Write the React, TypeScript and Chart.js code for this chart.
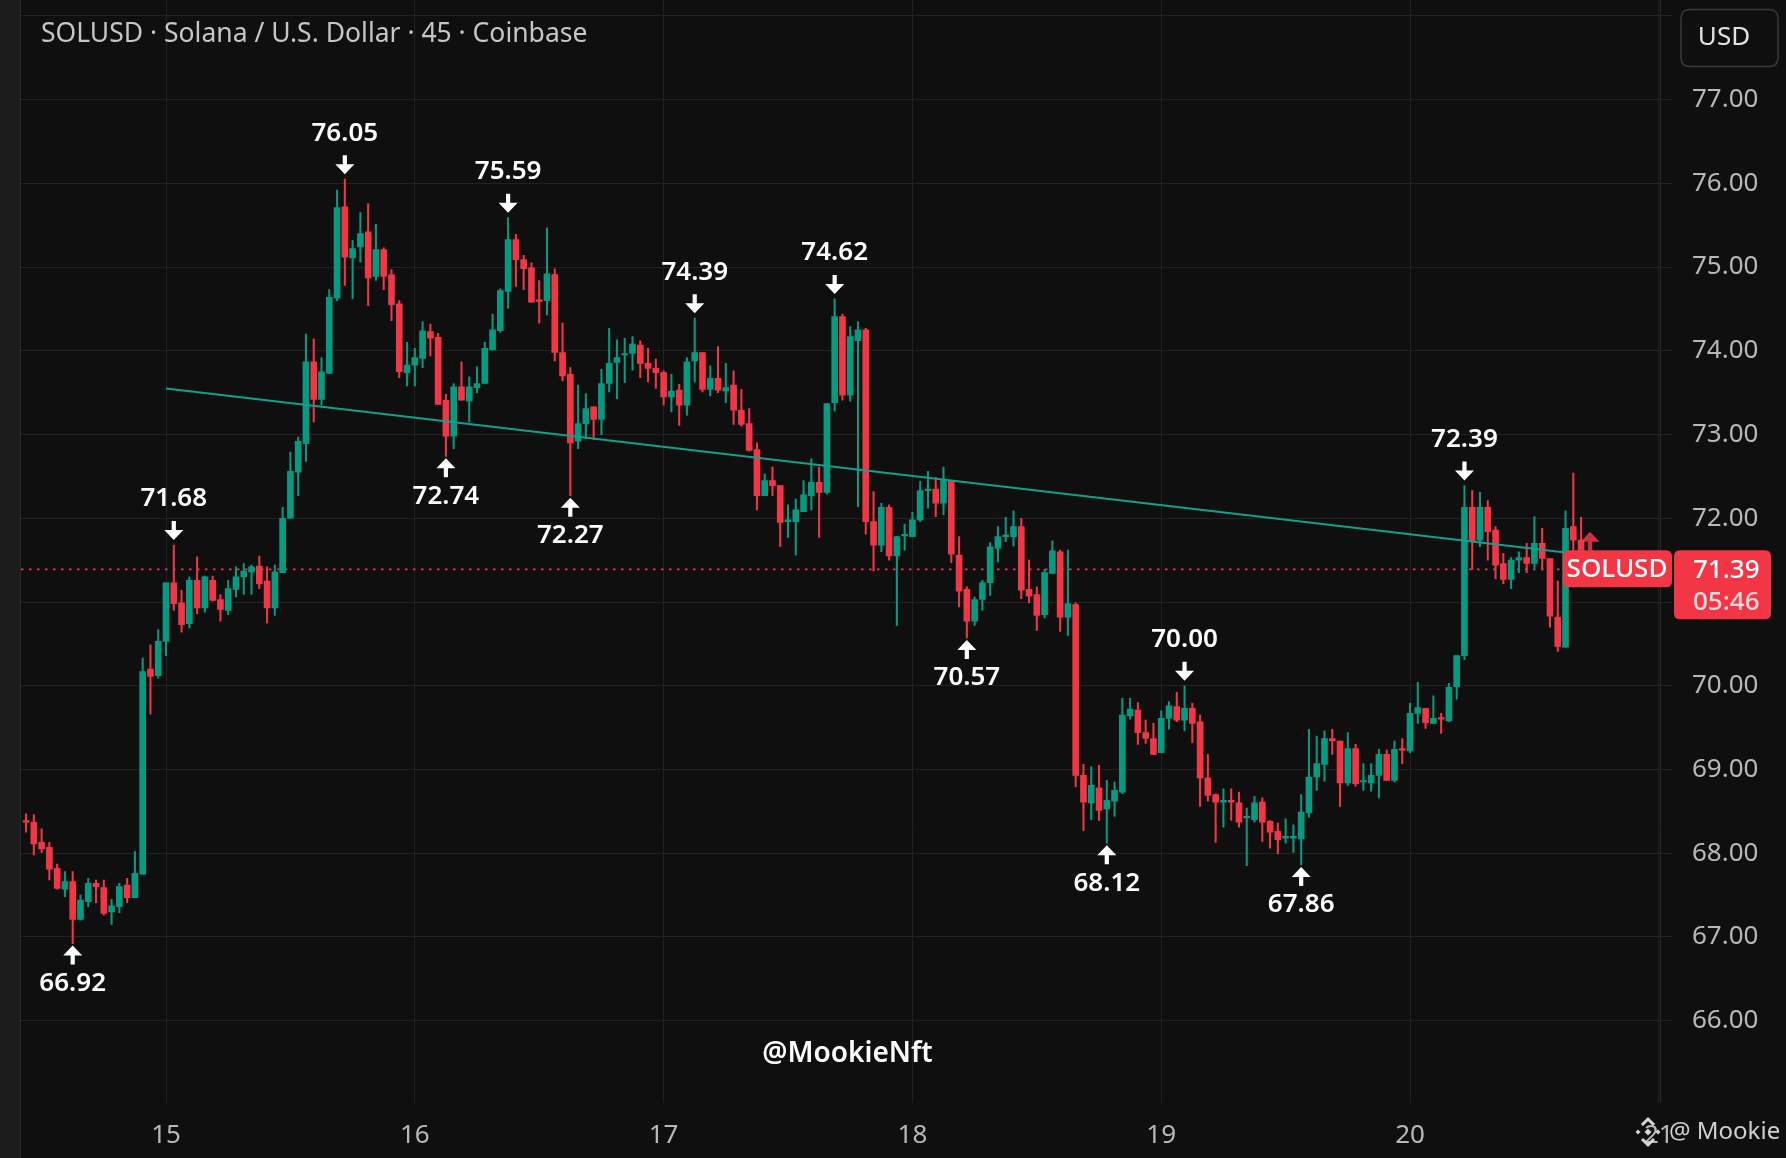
import React, { useEffect, useRef } from 'react';
import { Chart, registerables } from 'chart.js';

Chart.register(...registerables);

// ---- data ----
const title = 'SOLUSD · Solana / U.S. Dollar · 45 · Coinbase';
const symbol = 'SOLUSD';
const countdown = '05:46';
const currency = 'USD';
const watermark = '@MookieNft';
const cornerMark = '@ Mookie';

// candle index of first bar (45-minute bars, 32 per day, index 0 = start of day 15)
const firstIndex = -18;

const opens = [
  68.39, 68.37, 68.13, 68.07, 67.82, 67.57, 67.66, 67.21, 67.42, 67.64,
  67.59, 67.30, 67.36, 67.62, 67.47, 67.75, 70.20, 70.12, 70.53, 71.23,
  70.99, 70.74, 71.26, 70.93, 71.26, 71.03, 70.90, 71.15, 71.30, 71.36,
  71.43, 71.25, 70.93, 71.35, 72.00, 72.55, 72.89, 73.87, 73.42, 73.73,
  74.63, 75.72, 75.11, 75.24, 75.42, 74.89, 75.21, 74.91, 74.56, 73.74,
  73.83, 73.91, 74.23, 74.16, 73.41, 72.98, 73.57, 73.40, 73.56, 73.61,
  74.01, 74.24, 74.71, 75.33, 75.09, 74.99, 74.60, 74.60, 74.91, 73.98,
  73.72, 72.92, 73.13, 73.33, 73.18, 73.61, 73.86, 73.95, 73.97, 74.07,
  73.85, 73.79, 73.74, 73.45, 73.53, 73.35, 73.88, 73.98, 73.54, 73.67,
  73.52, 73.59, 73.29, 73.13, 72.82, 72.27, 72.45, 72.39, 71.96, 71.96,
  72.08, 72.27, 72.43, 72.31, 73.38, 74.41, 73.47, 74.12, 74.25, 71.96,
  71.68, 72.13, 71.55, 71.79, 71.78, 71.98, 72.33, 72.35, 72.18, 72.45,
  71.56, 71.15, 70.77, 71.03, 71.23, 71.64, 71.78, 71.78, 71.90, 71.15,
  71.09, 70.85, 71.34, 71.60, 70.82, 70.97, 68.93, 68.60, 68.78, 68.53,
  68.62, 68.73, 69.64, 69.71, 69.44, 69.37, 69.20, 69.61, 69.75, 69.59,
  69.73, 69.57, 68.90, 68.70, 68.61, 68.63, 68.60, 68.42, 68.40, 68.61,
  68.38, 68.26, 68.18, 68.18, 68.17, 68.48, 68.91, 69.06, 69.37, 69.34,
  68.84, 69.25, 68.85, 68.84, 68.93, 69.18, 68.87, 69.25, 69.22, 69.67,
  69.73, 69.55, 69.62, 69.58, 69.99, 70.36, 72.13, 71.74, 72.13, 71.86,
  71.46, 71.27, 71.50, 71.53, 71.46, 71.70, 71.52, 70.82, 70.46, 71.90,
  71.74,
];

const highs = [
  68.47, 68.46, 68.29, 68.13, 67.87, 67.78, 67.78, 67.50, 67.70, 67.68,
  67.68, 67.45, 67.64, 67.70, 68.02, 70.33, 70.49, 70.67, 71.23, 71.68,
  71.14, 71.30, 71.54, 71.31, 71.31, 71.09, 71.26, 71.42, 71.46, 71.44,
  71.55, 71.42, 71.44, 72.13, 72.79, 72.97, 74.20, 74.14, 73.92, 74.73,
  75.92, 76.05, 75.32, 75.65, 75.76, 75.51, 75.23, 74.97, 74.60, 74.10,
  74.03, 74.35, 74.32, 74.21, 73.48, 73.61, 73.87, 73.69, 73.81, 74.10,
  74.44, 74.74, 75.59, 75.39, 75.14, 75.05, 74.84, 75.47, 74.98, 74.33,
  73.80, 73.59, 73.49, 73.33, 73.78, 74.27, 74.13, 74.15, 74.17, 74.12,
  74.03, 73.90, 73.76, 73.72, 73.60, 73.92, 74.39, 73.98, 73.82, 74.05,
  73.85, 73.76, 73.54, 73.31, 72.90, 72.53, 72.61, 72.39, 72.16, 72.23,
  72.45, 72.71, 72.61, 73.37, 74.62, 74.44, 74.29, 74.35, 74.27, 72.32,
  72.18, 72.16, 71.78, 71.93, 72.07, 72.44, 72.56, 72.49, 72.61, 72.45,
  71.78, 71.18, 71.06, 71.26, 71.71, 71.90, 72.01, 72.09, 72.00, 71.50,
  71.18, 71.39, 71.73, 71.62, 71.62, 70.99, 69.06, 69.03, 69.05, 68.87,
  68.85, 69.85, 69.85, 69.80, 69.59, 69.55, 69.70, 69.81, 69.92, 70.00,
  69.79, 69.65, 69.18, 68.71, 68.77, 68.77, 68.73, 68.54, 68.68, 68.66,
  68.39, 68.36, 68.41, 68.34, 68.70, 69.48, 69.40, 69.46, 69.48, 69.34,
  69.44, 69.30, 69.07, 69.07, 69.24, 69.23, 69.34, 69.37, 69.79, 70.04,
  69.73, 69.88, 69.67, 70.03, 70.36, 72.39, 72.33, 72.31, 72.21, 71.90,
  71.58, 71.53, 71.60, 71.70, 72.02, 71.88, 71.52, 71.25, 72.09, 72.54,
  72.01,
];

const lows = [
  68.25, 67.98, 68.01, 67.68, 67.57, 67.48, 66.92, 67.20, 67.36, 67.41,
  67.26, 67.15, 67.29, 67.41, 67.47, 67.75, 69.66, 70.09, 70.36, 70.90,
  70.64, 70.69, 70.86, 70.88, 71.01, 70.77, 70.85, 71.06, 71.09, 71.09,
  71.16, 70.75, 70.84, 71.35, 72.00, 72.27, 72.68, 73.15, 73.35, 73.73,
  74.60, 74.78, 74.62, 75.06, 74.54, 74.84, 74.73, 74.36, 73.68, 73.58,
  73.58, 73.80, 73.94, 73.36, 72.74, 72.83, 73.41, 73.15, 73.50, 73.61,
  74.01, 74.22, 74.51, 74.77, 74.73, 74.58, 74.33, 74.43, 73.88, 73.64,
  72.27, 72.83, 72.96, 72.94, 73.00, 73.51, 73.43, 73.62, 73.77, 73.68,
  73.63, 73.55, 73.35, 73.27, 73.11, 73.23, 73.63, 73.51, 73.46, 73.50,
  73.38, 73.12, 73.10, 72.80, 72.10, 72.27, 72.27, 71.66, 71.77, 71.56,
  72.08, 72.10, 71.77, 72.29, 73.28, 73.41, 73.40, 72.14, 71.81, 71.37,
  71.60, 71.50, 70.72, 71.62, 71.78, 71.96, 72.12, 72.02, 72.04, 71.47,
  70.94, 70.57, 70.72, 70.90, 71.08, 71.48, 71.72, 71.67, 71.04, 70.99,
  70.66, 70.81, 71.34, 70.65, 70.60, 68.79, 68.27, 68.40, 68.39, 68.12,
  68.44, 68.71, 69.60, 69.30, 69.31, 69.18, 69.20, 69.48, 69.57, 69.46,
  69.32, 68.56, 68.62, 68.13, 68.31, 68.39, 68.31, 67.85, 68.37, 68.14,
  68.06, 67.99, 68.12, 68.01, 67.86, 68.43, 68.75, 68.86, 69.18, 68.56,
  68.81, 68.80, 68.75, 68.74, 68.66, 68.87, 68.85, 69.07, 69.20, 69.55,
  69.49, 69.55, 69.43, 69.57, 69.84, 70.31, 71.39, 71.66, 71.50, 71.28,
  71.22, 71.16, 71.35, 71.35, 71.40, 71.39, 70.70, 70.41, 70.46, 71.55,
  71.35,
];

const closes = [
  68.37, 68.11, 68.05, 67.81, 67.58, 67.66, 67.21, 67.44, 67.64, 67.60,
  67.28, 67.37, 67.60, 67.47, 67.76, 70.17, 70.11, 70.53, 71.23, 70.98,
  70.73, 71.26, 70.93, 71.30, 71.02, 70.91, 71.16, 71.30, 71.37, 71.42,
  71.22, 70.93, 71.36, 72.00, 72.56, 72.92, 73.87, 73.42, 73.75, 74.64,
  75.71, 75.12, 75.22, 75.40, 74.87, 75.21, 74.89, 74.55, 73.75, 73.83,
  73.92, 74.24, 74.15, 73.36, 72.98, 73.57, 73.41, 73.57, 73.61, 74.03,
  74.25, 74.72, 75.33, 75.09, 74.98, 74.58, 74.59, 74.92, 73.98, 73.70,
  72.90, 73.13, 73.31, 73.18, 73.61, 73.85, 73.92, 73.96, 74.08, 73.85,
  73.79, 73.74, 73.45, 73.52, 73.35, 73.87, 73.98, 73.54, 73.67, 73.53,
  73.56, 73.29, 73.12, 72.81, 72.27, 72.45, 72.39, 71.95, 71.98, 72.10,
  72.28, 72.43, 72.31, 73.37, 74.41, 73.47, 74.17, 74.25, 71.96, 71.68,
  72.13, 71.55, 71.78, 71.80, 71.98, 72.33, 72.34, 72.18, 72.45, 71.57,
  71.13, 70.77, 71.03, 71.23, 71.66, 71.78, 71.80, 71.90, 71.14, 71.07,
  70.84, 71.35, 71.61, 70.82, 70.98, 68.93, 68.61, 68.81, 68.51, 68.63,
  68.75, 69.65, 69.72, 69.44, 69.37, 69.18, 69.61, 69.76, 69.59, 69.73,
  69.55, 68.90, 68.69, 68.61, 68.63, 68.61, 68.37, 68.44, 68.60, 68.37,
  68.25, 68.16, 68.20, 68.20, 68.49, 68.91, 69.07, 69.37, 69.34, 68.84,
  69.25, 68.83, 68.86, 68.93, 69.18, 68.87, 69.24, 69.23, 69.67, 69.74,
  69.56, 69.61, 69.60, 69.98, 70.36, 72.13, 71.72, 72.13, 71.84, 71.44,
  71.27, 71.50, 71.53, 71.46, 71.70, 71.52, 70.83, 70.47, 71.88, 71.74,
  71.39,
];

const dayTicks = [0, 32, 64, 96, 128, 160, 192];
const dayLabels = ['15', '16', '17', '18', '19', '20', '21'];
const priceTicks = [66, 67, 68, 69, 70, 71, 72, 73, 74, 75, 76, 77, 78];
const priceLabelMax = 77; // the 78 gridline's label sits under the currency box

// swing annotations
const highIdx = [1, 23, 44, 68, 86, 131, 167];
const highVals = [71.68, 76.05, 75.59, 74.39, 74.62, 70.0, 72.39];
const lowIdx = [-12, 36, 52, 103, 121, 146];
const lowVals = [66.92, 72.74, 72.27, 70.57, 68.12, 67.86];
const pendingIdx = [183.15];
const pendingVals = [71.84];

// trend line
const trendIdx = [0, 180];
const trendVals = [73.55, 71.59];

const xMin = -18.65;
const xMax = 192.15;
const yMin = 65.02;
const yMax = 78.19;

const GREEN = '#089981';
const RED = '#f23645';
const TEAL = '#12a08b';
const BG = '#0f0f0f';
const GRID = '#222222';
const TICK = '#b8b8b8';
const FONT = "'Noto Sans', 'Open Sans', sans-serif";

function drawArrow(ctx: CanvasRenderingContext2D, x: number, tipY: number, dir: number) {
  // dir = 1 : pointing down (tip at bottom); dir = -1 : pointing up
  const headH = 10, headW = 19, shaftW = 4.2, len = 19;
  const s = dir;
  ctx.beginPath();
  ctx.moveTo(x, tipY);
  ctx.lineTo(x - headW / 2, tipY - s * headH);
  ctx.lineTo(x - shaftW / 2, tipY - s * headH);
  ctx.lineTo(x - shaftW / 2, tipY - s * len);
  ctx.lineTo(x + shaftW / 2, tipY - s * len);
  ctx.lineTo(x + shaftW / 2, tipY - s * headH);
  ctx.lineTo(x + headW / 2, tipY - s * headH);
  ctx.closePath();
  ctx.fill();
}

function rrect(ctx: CanvasRenderingContext2D, x: number, y: number, w: number, h: number, r: number) {
  ctx.beginPath();
  ctx.moveTo(x + r, y);
  ctx.lineTo(x + w - r, y);
  ctx.quadraticCurveTo(x + w, y, x + w, y + r);
  ctx.lineTo(x + w, y + h - r);
  ctx.quadraticCurveTo(x + w, y + h, x + w - r, y + h);
  ctx.lineTo(x + r, y + h);
  ctx.quadraticCurveTo(x, y + h, x, y + h - r);
  ctx.lineTo(x, y + r);
  ctx.quadraticCurveTo(x, y, x + r, y);
  ctx.closePath();
}

const overlayPlugin = {
  id: 'overlay',
  beforeDraw(chart: any) {
    const { ctx, width, height } = chart;
    ctx.save();
    ctx.fillStyle = BG;
    ctx.fillRect(0, 0, width, height);
    ctx.fillStyle = '#1c1c1c';
    ctx.fillRect(0, 0, 20, height);
    ctx.fillStyle = '#2a2a2a';
    ctx.fillRect(20, 0, 1, height);
    ctx.restore();
  },
  afterDatasetsDraw(chart: any) {
    const { ctx } = chart;
    const xs = chart.scales.x;
    const ys = chart.scales.y;
    ctx.save();
    ctx.fillStyle = '#ffffff';
    ctx.font = `600 26px ${FONT}`;
    ctx.textAlign = 'center';
    ctx.textBaseline = 'middle';
    highIdx.forEach((i, k) => {
      const x = xs.getPixelForValue(i);
      const y = ys.getPixelForValue(highVals[k]);
      drawArrow(ctx, x, y - 5, 1);
      ctx.fillText(highVals[k].toFixed(2), x, y - 46);
    });
    lowIdx.forEach((i, k) => {
      const x = xs.getPixelForValue(i);
      const y = ys.getPixelForValue(lowVals[k]);
      drawArrow(ctx, x, y + 2, -1);
      ctx.fillText(lowVals[k].toFixed(2), x, y + 40);
    });
    ctx.fillStyle = 'rgba(242,54,69,0.85)';
    pendingIdx.forEach((i, k) => {
      const x = xs.getPixelForValue(i);
      const y = ys.getPixelForValue(pendingVals[k]);
      drawArrow(ctx, x, y, -1);
    });
    ctx.restore();
  },
  afterDraw(chart: any) {
    const { ctx, chartArea } = chart;
    const ys = chart.scales.y;
    const R = chartArea.right;
    ctx.save();
    // header
    ctx.font = `26.5px ${FONT}`;
    ctx.fillStyle = '#c6c6c6';
    ctx.textAlign = 'left';
    ctx.textBaseline = 'middle';
    ctx.fillText(title, 41, 34);

    // currency box
    ctx.fillStyle = BG;
    rrect(ctx, R + 21, 9.5, 97, 57, 9);
    ctx.fill();
    ctx.strokeStyle = '#3a3a3a';
    ctx.lineWidth = 1.5;
    ctx.stroke();
    ctx.fillStyle = '#e2e2e2';
    ctx.font = `26px ${FONT}`;
    ctx.textAlign = 'center';
    ctx.fillText(currency, R + 64, 38);

    // last price labels
    const last = closes[closes.length - 1];
    const py = ys.getPixelForValue(last);
    ctx.fillStyle = RED;
    rrect(ctx, R - 97, py - 19, 109, 37, 6);
    ctx.fill();
    rrect(ctx, R + 14, py - 19, 97, 69, 6);
    ctx.fill();
    ctx.fillStyle = '#ffffff';
    ctx.font = `500 26px ${FONT}`;
    ctx.textAlign = 'center';
    ctx.fillText(symbol, R - 43, py);
    ctx.textAlign = 'left';
    ctx.fillText(last.toFixed(2), R + 33, py + 1);
    ctx.fillStyle = 'rgba(255,255,255,0.82)';
    ctx.fillText(countdown, R + 33, py + 33);

    // watermark
    ctx.fillStyle = '#ffffff';
    ctx.font = `600 28px ${FONT}`;
    ctx.textAlign = 'center';
    ctx.fillText(watermark, (chartArea.left + R) / 2 + 7, 1054);

    // corner mark with small diamond logo
    const cx = 1648, cy = 1132;
    ctx.fillStyle = '#d6d6d6';
    const d = (x: number, y: number, r: number) => {
      ctx.beginPath();
      ctx.moveTo(x, y - r);
      ctx.lineTo(x + r, y);
      ctx.lineTo(x, y + r);
      ctx.lineTo(x - r, y);
      ctx.closePath();
      ctx.fill();
    };
    d(cx, cy, 3.5);
    d(cx - 10, cy, 2.5);
    d(cx + 10, cy, 2.5);
    ctx.strokeStyle = '#d6d6d6';
    ctx.lineWidth = 3;
    ctx.beginPath();
    ctx.moveTo(cx - 6, cy - 7);
    ctx.lineTo(cx, cy - 13);
    ctx.lineTo(cx + 6, cy - 7);
    ctx.moveTo(cx - 6, cy + 7);
    ctx.lineTo(cx, cy + 13);
    ctx.lineTo(cx + 6, cy + 7);
    ctx.stroke();
    ctx.font = `24px ${FONT}`;
    ctx.textAlign = 'left';
    ctx.fillStyle = '#d0d0d0';
    ctx.fillText(cornerMark, 1669, cy);
    ctx.restore();
  },
};

export default function App() {
  const ref = useRef<HTMLCanvasElement | null>(null);

  useEffect(() => {
    document.body.style.margin = '0';
    document.body.style.background = BG;
    document.body.style.overflow = 'hidden';
    const canvas = ref.current;
    if (!canvas) return;

    const idx = opens.map((_, k) => firstIndex + k);
    const colors = idx.map((_, k) => (closes[k] >= opens[k] ? GREEN : RED));
    const wickData = idx.map((x, k) => ({ x, y: [lows[k], highs[k]] }));
    const bodyData = idx.map((x, k) => ({ x, y: [opens[k], closes[k]] }));
    const last = closes[closes.length - 1];

    Chart.defaults.font.family = FONT;

    const chart = new Chart(canvas, {
      type: 'bar',
      data: {
        datasets: [
          {
            type: 'line',
            data: trendIdx.map((x, k) => ({ x, y: trendVals[k] })),
            borderColor: TEAL,
            borderWidth: 2,
            pointRadius: 0,
            order: 0,
          } as any,
          {
            type: 'bar',
            data: bodyData,
            backgroundColor: colors,
            barThickness: 6,
            minBarLength: 1.5,
            grouped: false,
            order: 1,
          } as any,
          {
            type: 'bar',
            data: wickData,
            backgroundColor: colors,
            barThickness: 1.4,
            grouped: false,
            order: 2,
          } as any,
          {
            type: 'line',
            data: [
              { x: xMin, y: last },
              { x: xMax, y: last },
            ],
            borderColor: RED,
            borderWidth: 1.8,
            borderDash: [2.5, 5.5],
            pointRadius: 0,
            order: 3,
          } as any,
        ],
      },
      options: {
        animation: false,
        responsive: false,
        devicePixelRatio: 1,
        events: [],
        layout: { padding: { left: 21, top: 0, right: 0, bottom: 0 } },
        plugins: { legend: { display: false }, tooltip: { enabled: false } },
        scales: {
          x: {
            type: 'linear',
            min: xMin,
            max: xMax,
            offset: false,
            grid: { color: GRID, offset: false, drawTicks: false },
            border: { display: false },
            afterBuildTicks: (s: any) => {
              s.ticks = dayTicks.map((v) => ({ value: v }));
            },
            afterFit: (s: any) => {
              s.height = 55.3;
              s.paddingLeft = 0;
              s.paddingRight = 0;
            },
            ticks: {
              autoSkip: false,
              maxRotation: 0,
              padding: 17,
              color: TICK,
              font: { size: 26 },
              callback: (v: any) => {
                const k = dayTicks.indexOf(Number(v));
                return k >= 0 ? dayLabels[k] : '';
              },
            },
          },
          y: {
            type: 'linear',
            position: 'right',
            min: yMin,
            max: yMax,
            beginAtZero: false,
            grid: { color: GRID, tickLength: 12, drawTicks: true },
            border: { display: true, color: '#2b2b2b' },
            afterBuildTicks: (s: any) => {
              s.ticks = priceTicks.map((v) => ({ value: v }));
            },
            afterFit: (s: any) => {
              s.width = 126;
              s.paddingTop = 0;
              s.paddingBottom = 0;
            },
            ticks: {
              autoSkip: false,
              padding: 20,
              color: TICK,
              font: { size: 26 },
              callback: (v: any) => (Number(v) > priceLabelMax ? '' : Number(v).toFixed(2)),
            },
          },
        },
      } as any,
      plugins: [overlayPlugin],
    });

    return () => chart.destroy();
  }, []);

  return (
    <div style={{ width: 1786, height: 1158, overflow: 'hidden', background: BG }}>
      <canvas ref={ref} width={1786} height={1158} style={{ display: 'block' }} />
    </div>
  );
}
